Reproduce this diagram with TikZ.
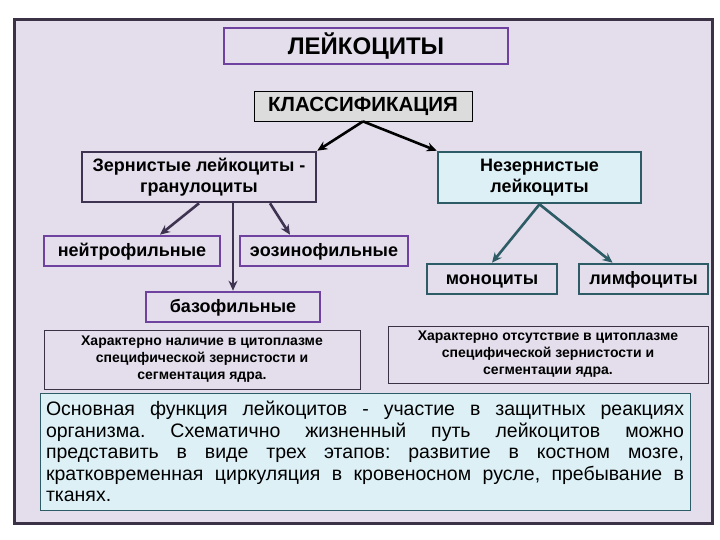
\documentclass[tikz,border=0pt]{standalone}
\usepackage{fontspec}
\setmainfont{Liberation Sans}
\usetikzlibrary{arrows.meta,positioning}
\definecolor{Lavanda}{HTML}{E4DEEC}
\definecolor{Marco}{HTML}{3B3345}
\definecolor{Violeta}{HTML}{7042A0}
\definecolor{VioletaOscuro}{HTML}{3E3452}
\definecolor{Turquesa}{HTML}{2E5C66}
\definecolor{TurquesaClaro}{HTML}{DDF0F6}
\definecolor{Gris}{HTML}{DCDCDC}
\frenchspacing

\begin{document}
\begin{tikzpicture}[
  x=1pt,y=-1pt,
  box/.style={draw,fill=Lavanda,align=center,inner sep=0pt,line width=2.6pt,
    font=\bfseries\fontsize{18}{21}\selectfont},
  linea/.style={box,text height=13pt,text depth=3pt},
  nota/.style={draw=Marco,line width=0.8pt,align=center,inner sep=0pt,
    font=\bfseries\fontsize{14}{17}\selectfont},
  arr/.style={-{Stealth[length=10pt,width=9pt]},line width=2.6pt}
]
  \useasboundingbox (0,0) rectangle (720,540);
  \fill[white] (0,0) rectangle (720,540);
  \draw[Marco,line width=3pt,fill=Lavanda] (14,20) rectangle (712,523);

  % Cabecera.
  \node[box,draw=Violeta,minimum width=284,minimum height=36,
    font=\bfseries\fontsize{24}{26}\selectfont] (titulo) at (366,46) {ЛЕЙКОЦИТЫ};
  \node[box,draw=black,fill=Gris,line width=0.8pt,minimum width=218,minimum height=30,
    font=\bfseries\fontsize{20.5}{22}\selectfont] (clasif) at (363,106) {КЛАССИФИКАЦИЯ};

  % Rama granular.
  \node[box,draw=VioletaOscuro,minimum width=234,minimum height=50] (gran) at (199,177)
    {Зернистые лейкоциты -\\гранулоциты};
  \node[linea,draw=Violeta,minimum width=176,minimum height=30] (neutro) at (132,251)
    {нейтрофильные};
  \node[linea,draw=Violeta,minimum width=168,minimum height=30] (eosino) at (324,251)
    {эозинофильные};
  \node[linea,draw=Violeta,minimum width=174,minimum height=30] (baso) at (233,307)
    {базофильные};
  \draw[arr,VioletaOscuro] (gran.south)--([xshift=28pt]neutro.north);
  \draw[arr,VioletaOscuro] (baso.north |- gran.south)--(baso.north);
  \draw[arr,VioletaOscuro] ([xshift=71pt]gran.south)--([xshift=-34pt]eosino.north);

  % Rama agranular.
  \node[box,draw=Turquesa,fill=TurquesaClaro,minimum width=203,minimum height=51] (nogran)
    at (539.5,177.5) {Незернистые\\лейкоциты};
  \node[linea,draw=Turquesa,minimum width=130,minimum height=30] (mono) at (492,279)
    {моноциты};
  \node[linea,draw=Turquesa,minimum width=129,minimum height=30] (linfo) at (643.5,279)
    {лимфоциты};
  \draw[arr,Turquesa] (nogran.south)--(mono.north);
  \draw[arr,Turquesa] (nogran.south)--([xshift=-31pt]linfo.north);

  \draw[arr,black] (clasif.south)--(gran.north east);
  \draw[arr,black] (clasif.south)--(nogran.north west);

  % Notas.
  \node[nota,minimum width=316,minimum height=59] (notagran) at (202,359.5)
    {Характерно наличие в цитоплазме\\специфической зернистости и\\сегментация ядра.};
  \node[nota,minimum width=320,minimum height=57] (notanogran) at (548,354.5)
    {Характерно отсутствие в цитоплазме\\специфической зернистости и\\сегментации ядра.};
  \node[draw=Turquesa,fill=TurquesaClaro,line width=0.8pt,minimum width=650,minimum height=117,
    text width=638pt,align=justify,inner sep=0pt,font=\fontsize{19.5}{21.5}\selectfont]
    (funcion) at (365,451.5)
    {Основная функция лейкоцитов - участие в защитных реакциях\linebreak
     организма. Схематично жизненный путь лейкоцитов можно\linebreak
     представить в виде трех этапов: развитие в костном мозге,\linebreak
     кратковременная циркуляция в кровеносном русле, пребывание в\linebreak
     тканях.};
\end{tikzpicture}
\end{document}
